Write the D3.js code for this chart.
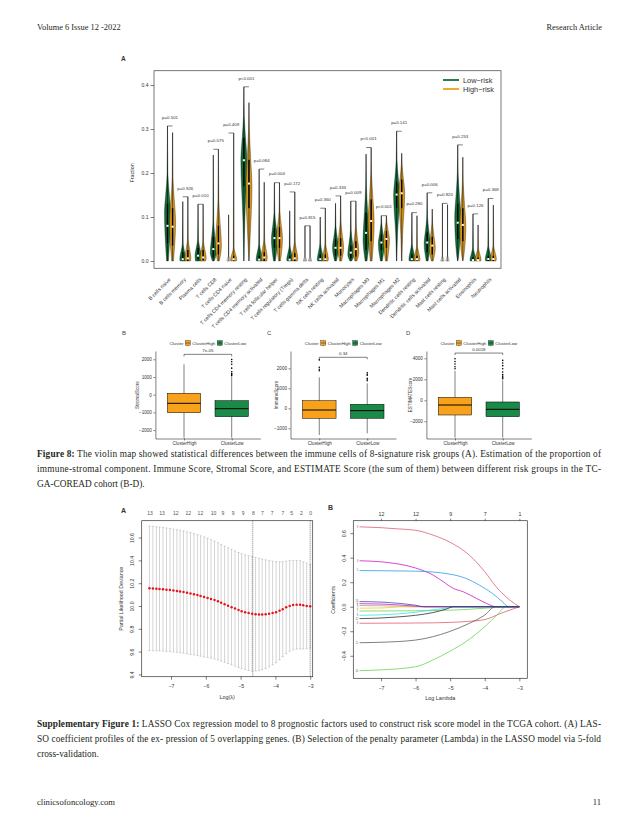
<!DOCTYPE html>
<html lang="en">
<head>
<meta charset="UTF-8">
<title>Figure 8 and Supplementary Figure 1</title>
<script src="https://d3js.org/d3.v7.min.js"></script>
<style>
  body { margin: 0; background: #fff; }
  svg { display: block; }
  .page text { font-family: "Liberation Serif", "DejaVu Serif", serif; fill: #231f20; }
  .chart text { font-family: "Liberation Sans", Arial, sans-serif; }
</style>
</head>
<body>
<svg id="page" width="638" height="826"></svg>
<script>
// ---------- Figure 8A: violin data ----------
const cellTypes = ["B cells naive", "B cells memory", "Plasma cells", "T cells CD8", "T cells CD4 naive",
  "T cells CD4 memory resting", "T cells CD4 memory activated", "T cells follicular helper",
  "T cells regulatory (Tregs)", "T cells gamma delta", "NK cells resting", "NK cells activated",
  "Monocytes", "Macrophages M0", "Macrophages M1", "Macrophages M2", "Dendritic cells resting",
  "Dendritic cells activated", "Mast cells resting", "Mast cells activated", "Eosinophils", "Neutrophils"];
const pValues = ["p=0.501", "p=0.926", "p=0.010", "p=0.075", "p=0.409", "p<0.001", "p=0.084", "p=0.004",
  "p=0.172", "p=0.815", "p=0.360", "p=0.333", "p=0.009", "p<0.001", "p<0.001", "p=0.141", "p=0.280",
  "p=0.006", "p=0.820", "p=0.253", "p=0.126", "p=0.368"];
// [max, q1, median, q3, densest value, body top, body bottom]
const lowRisk = [
  [0.307, 0.04, 0.080, 0.13, 0.11, 0.20, 0],
  [0.135, 0, 0.004, 0.02, 0.005, 0.04, 0],
  [0.129, 0.004, 0.012, 0.03, 0.012, 0.05, 0],
  [0.241, 0.008, 0.027, 0.055, 0.02, 0.09, 0],
  [0.105, 0, 0, 0, 0, 0.01, 0],
  [0.396, 0.17, 0.229, 0.28, 0.23, 0.33, 0.09],
  [0.209, 0, 0.003, 0.012, 0.004, 0.04, 0],
  [0.178, 0.03, 0.052, 0.075, 0.05, 0.11, 0],
  [0.114, 0, 0.003, 0.012, 0.004, 0.035, 0],
  [0.080, 0, 0, 0, 0, 0.01, 0],
  [0.100, 0, 0.004, 0.015, 0.004, 0.04, 0],
  [0.131, 0.012, 0.030, 0.05, 0.03, 0.08, 0],
  [0.136, 0.006, 0.019, 0.035, 0.015, 0.07, 0],
  [0.243, 0.025, 0.064, 0.11, 0.05, 0.17, 0],
  [0.103, 0.025, 0.042, 0.06, 0.04, 0.085, 0],
  [0.295, 0.12, 0.151, 0.18, 0.15, 0.23, 0.06],
  [0.110, 0, 0.004, 0.015, 0.004, 0.04, 0],
  [0.155, 0.02, 0.042, 0.065, 0.04, 0.10, 0],
  [0.131, 0, 0, 0, 0, 0.01, 0],
  [0.264, 0.05, 0.087, 0.13, 0.10, 0.20, 0.01],
  [0.107, 0, 0.002, 0.008, 0.003, 0.03, 0],
  [0.142, 0, 0.0045, 0.012, 0.005, 0.035, 0]
];
const highRisk = [
  [0.292, 0.035, 0.078, 0.12, 0.09, 0.19, 0],
  [0.146, 0, 0.006, 0.025, 0.006, 0.05, 0],
  [0.129, 0.002, 0.008, 0.025, 0.008, 0.045, 0],
  [0.254, 0.015, 0.040, 0.08, 0.035, 0.14, 0],
  [0.291, 0, 0.004, 0.012, 0.004, 0.03, 0],
  [0.360, 0.12, 0.176, 0.23, 0.17, 0.30, 0.04],
  [0.179, 0, 0.008, 0.02, 0.008, 0.05, 0],
  [0.178, 0.03, 0.052, 0.077, 0.052, 0.115, 0],
  [0.157, 0, 0.006, 0.018, 0.006, 0.045, 0],
  [0.080, 0, 0, 0, 0, 0.01, 0],
  [0.120, 0, 0.004, 0.015, 0.004, 0.04, 0],
  [0.148, 0.012, 0.030, 0.052, 0.03, 0.09, 0],
  [0.136, 0.01, 0.027, 0.045, 0.02, 0.08, 0],
  [0.258, 0.045, 0.091, 0.14, 0.09, 0.20, 0],
  [0.103, 0.03, 0.050, 0.068, 0.05, 0.09, 0],
  [0.245, 0.12, 0.154, 0.185, 0.155, 0.22, 0.06],
  [0.103, 0, 0.004, 0.012, 0.004, 0.035, 0],
  [0.118, 0.015, 0.035, 0.055, 0.03, 0.085, 0],
  [0.128, 0, 0, 0, 0, 0.01, 0],
  [0.236, 0.045, 0.082, 0.12, 0.08, 0.18, 0.01],
  [0.082, 0, 0.002, 0.008, 0.003, 0.03, 0],
  [0.127, 0, 0.0045, 0.012, 0.005, 0.035, 0]
];
const fractionTicks = [0, 0.1, 0.2, 0.3, 0.4];

// ---------- Figure 8B-D: boxplot data ----------
const boxGroups = ["ClusterHigh", "ClusterLow"];
// [whisker low, q1, median, q3, whisker high]
const stromalBox = [[-2430, -1017, -486, 80, 1720], [-2430, -1243, -791, -339, 1017]];
const stromalOut = [[], [1080, 1150, 1200, 1300, 1500, 1720, 1860, 1990]];
const immuneBox = [[-1335, -500, -85, 380, 1550], [-1250, -500, -117, 200, 1250]];
const immuneOut = [[1880, 1950, 2050, 2420], [1380, 1450, 1500, 1650, 1700, 1780]];
const estimateBox = [[-3550, -1400, -448, 285, 2800], [-3550, -1560, -857, -160, 1900]];
const estimateOut = [[3000, 3200, 3450, 3700, 3950], [2050, 2150, 2300, 2450, 2700, 3000, 3300, 3550, 3800]];
const boxPValues = ["7e-05", "0.34", "0.0018"];
const bracketHeights = [2280, 2550, 4500];

// ---------- Supplementary Figure 1A: cross-validation ----------
const logLambdaA = [-7.62, -7.52, -7.42, -7.33, -7.23, -7.13, -7.03, -6.93, -6.83, -6.74, -6.64, -6.54,
  -6.44, -6.34, -6.24, -6.15, -6.05, -5.95, -5.85, -5.75, -5.65, -5.56, -5.46, -5.36, -5.26, -5.16,
  -5.06, -4.97, -4.87, -4.77, -4.67, -4.57, -4.47, -4.38, -4.28, -4.18, -4.08, -3.98, -3.88, -3.79,
  -3.69, -3.59, -3.49, -3.39, -3.29, -3.20, -3.10, -3.00];
const cvMean = [10.155, 10.153, 10.151, 10.149, 10.146, 10.143, 10.140, 10.136, 10.132, 10.127, 10.122,
  10.116, 10.110, 10.103, 10.096, 10.088, 10.080, 10.071, 10.062, 10.052, 10.041, 10.029, 10.016,
  10.003, 9.990, 9.978, 9.965, 9.955, 9.946, 9.938, 9.932, 9.928, 9.926, 9.926, 9.928, 9.932, 9.938,
  9.946, 9.958, 9.972, 9.988, 10.000, 10.008, 10.011, 10.010, 10.006, 10.001, 9.997];
const cvSd = [0.546, 0.545, 0.544, 0.543, 0.542, 0.541, 0.540, 0.539, 0.538, 0.537, 0.536, 0.535, 0.534,
  0.532, 0.530, 0.528, 0.526, 0.523, 0.520, 0.517, 0.514, 0.512, 0.510, 0.508, 0.506, 0.505, 0.504,
  0.503, 0.503, 0.503, 0.502, 0.498, 0.492, 0.485, 0.477, 0.466, 0.455, 0.443, 0.430, 0.417, 0.405,
  0.397, 0.392, 0.389, 0.387, 0.382, 0.375, 0.367];
const nzPosA = [-7.62, -7.27, -6.88, -6.52, -6.17, -5.79, -5.52, -5.23, -4.94, -4.65, -4.39, -4.11,
  -3.80, -3.55, -3.27, -3.00];
const nzA = [13, 13, 12, 12, 12, 10, 9, 9, 9, 8, 7, 7, 7, 5, 2, 0];
const lambdaLines = [-4.65, -3.0];
const devianceTicks = [9.4, 9.6, 9.8, 10.0, 10.2, 10.4, 10.6];
const logTicks = [-7, -6, -5, -4, -3];

// ---------- Supplementary Figure 1B: coefficient paths ----------
const pathColors = ["#9e9e9e", "#F5C710", "#DF536B", "#CD0BBC", "#2297E6", "#CD0BBC", "#61D04F",
  "#28E2E5", "#DF536B", "#61D04F", "#555555", "#222222", "#3b3bb3"];
const coefPaths = [
  [[-7.62, 0.01], [-7.0, 0.008], [-6.5, 0.004], [-6.2, 0], [-3.0, 0]],
  [[-7.62, -0.012], [-7.0, -0.01], [-6.6, -0.004], [-6.4, 0], [-3.0, 0]],
  [[-7.62, 0.652], [-7, 0.645], [-6.5, 0.635], [-6, 0.624], [-5.5, 0.585], [-5.03, 0.53], [-4.45, 0.422], [-4.0, 0.286], [-3.67, 0.163], [-3.28, 0.055], [-3.0, 0]],
  [[-7.62, 0.375], [-6.84, 0.362], [-6.0, 0.316], [-5.49, 0.258], [-5.2, 0.204], [-4.91, 0.15], [-4.62, 0.122], [-4.24, 0.068], [-3.95, 0.027], [-3.67, 0], [-3.0, 0]],
  [[-7.62, 0.295], [-6.0, 0.29], [-5.03, 0.267], [-4.55, 0.232], [-4.16, 0.177], [-3.78, 0.109], [-3.49, 0.041], [-3.31, 0], [-3.0, 0]],
  [[-7.62, 0.025], [-7.0, 0.022], [-6.5, 0.015], [-6.0, 0.005], [-5.8, 0], [-3.0, 0]],
  [[-7.62, -0.035], [-6.0, -0.033], [-5.0, -0.028], [-4.5, -0.022], [-4.0, -0.012], [-3.5, -0.003], [-3.35, 0], [-3.0, 0]],
  [[-7.62, -0.07], [-7.0, -0.066], [-6.5, -0.058], [-6.0, -0.045], [-5.5, -0.025], [-5.0, -0.006], [-4.9, 0], [-3.0, 0]],
  [[-7.62, -0.135], [-6.0, -0.133], [-5.0, -0.128], [-4.5, -0.12], [-4.0, -0.105], [-3.5, -0.05], [-3.0, 0]],
  [[-7.62, -0.522], [-7.0, -0.515], [-6.0, -0.49], [-5.5, -0.435], [-5.03, -0.367], [-4.55, -0.286], [-4.0, -0.163], [-3.6, -0.054], [-3.4, 0], [-3.0, 0]],
  [[-7.62, -0.294], [-7.0, -0.29], [-6.0, -0.272], [-5.03, -0.204], [-4.45, -0.136], [-4.0, -0.068], [-3.7, 0], [-3.0, 0]],
  [[-7.62, -0.097], [-7.0, -0.092], [-6.5, -0.083], [-6.0, -0.07], [-5.5, -0.048], [-5.1, -0.018], [-4.9, 0], [-3.0, 0]],
  [[-7.62, 0.042], [-7.0, 0.038], [-6.5, 0.028], [-6.0, 0.012], [-5.75, 0], [-3.0, 0]]
];
const coefTicks = [-0.4, -0.2, 0, 0.2, 0.4, 0.6];
const nzB = [12, 12, 9, 7, 1];

// ---------- page text ----------
const fig8Caption = [
  ["Figure 8:", " The violin map showed statistical differences between the immune cells of 8-signature risk groups (A). Estimation of the proportion of", true],
  ["", "immune-stromal component. Immune Score, Stromal Score, and ESTIMATE Score (the sum of them) between different risk groups in the TC-", true],
  ["", "GA-COREAD cohort (B-D).", false]
];
const suppCaption = [
  ["Supplementary Figure 1:", " LASSO Cox regression model to 8 prognostic factors used to construct risk score model in the TCGA cohort. (A) LAS-", true],
  ["", "SO coefficient profiles of the ex- pression of 5 overlapping genes. (B) Selection of the penalty parameter (Lambda) in the LASSO model via 5-fold", true],
  ["", "cross-validation.", false]
];

const lowColor = "#10703a", highColor = "#d8961c";
const boxColors = ["#f8a11b", "#198a47"];
const sans = '"Liberation Sans", Arial, sans-serif';

const svg = d3.select("#page");
svg.append("rect").attr("width", 638).attr("height", 826).attr("fill", "#fff");

function styleAxis(sel, size) {
  sel.attr("font-family", sans).attr("font-size", size);
  sel.selectAll("path.domain").attr("stroke", "#000").attr("stroke-width", 0.5);
  sel.selectAll(".tick line").attr("stroke", "#000").attr("stroke-width", 0.5);
  sel.selectAll(".tick text").attr("fill", "#333");
}

// ---------- page header, captions, footer ----------
const page = svg.append("g").attr("class", "page");
page.append("text").attr("x", 37).attr("y", 30).attr("font-size", 8.4).text("Volume 6 Issue 12 -2022");
page.append("text").attr("x", 602).attr("y", 30).attr("font-size", 8.4).attr("text-anchor", "end").text("Research Article");
page.append("text").attr("x", 37).attr("y", 805).attr("font-size", 8.6).text("clinicsofoncology.com");
page.append("text").attr("x", 601).attr("y", 805).attr("font-size", 8.6).attr("text-anchor", "end").text("11");

function caption(lines, y0) {
  lines.forEach((ln, i) => {
    const t = page.append("text").attr("x", 37).attr("y", y0 + i * 15.2).attr("font-size", 9.3);
    if (ln[0]) t.append("tspan").attr("font-weight", "bold").text(ln[0]);
    t.append("tspan").text(ln[1]);
    if (ln[2]) t.attr("textLength", 564).attr("lengthAdjust", "spacing");
  });
}
caption(fig8Caption, 457);
caption(suppCaption, 727);

// ---------- Figure 8A: violins ----------
const gA = svg.append("g").attr("class", "chart");
const vx = d3.scaleLinear().domain([-1.65, 66.5]).range([154, 501]);
const vy = d3.scaleLinear().domain([-0.0166, 0.4326]).range([268.3, 70.7]);
const halfW = 3;

gA.append("text").attr("x", 121).attr("y", 61).attr("font-size", 6.5).attr("font-weight", "bold").attr("fill", "#333").text("A");

function violinKnots(s) {
  const [max, , , q3, peak, top, bottom] = s;
  if (q3 === 0) return [[0, 0.55], [0.005, 0.35], [0.014, 0], [max, 0]];
  const k = bottom > 0 ? [[0, 0.03], [bottom, 0.3]] : [[0, peak < 0.015 ? 0.85 : 0.3]];
  k.push([peak, 1], [(peak + top) / 2, 0.55], [top, 0.12], [max, 0]);
  return k;
}

function drawViolin(s, cx, color) {
  const [max, q1, med, q3] = s;
  const empty = q3 === 0;
  const knots = violinKnots(s).reverse();
  const area = d3.area().curve(d3.curveMonotoneY)
    .y(d => vy(d[0]))
    .x0(d => cx - d[1] * halfW)
    .x1(d => cx + d[1] * halfW);
  gA.append("path").datum(knots).attr("d", area)
    .attr("fill", empty ? "#fff" : color).attr("stroke", "#111").attr("stroke-width", 0.35);
  gA.append("line").attr("x1", cx).attr("x2", cx).attr("y1", vy(0)).attr("y2", vy(max))
    .attr("stroke", "#000").attr("stroke-width", 0.5);
  if (!empty) {
    gA.append("rect").attr("x", cx - 0.7).attr("width", 1.4)
      .attr("y", vy(q3)).attr("height", Math.max(0.5, vy(q1) - vy(q3))).attr("fill", "#000");
    gA.append("rect").attr("x", cx - 1).attr("y", vy(med) - 1).attr("width", 2).attr("height", 2).attr("fill", "#fff");
  }
}

cellTypes.forEach((name, i) => {
  const uLow = 3 * i + 1, uHigh = 3 * i + 2;
  drawViolin(lowRisk[i], vx(uLow), lowColor);
  drawViolin(highRisk[i], vx(uHigh), highColor);
  const mx = Math.max(lowRisk[i][0], highRisk[i][0]);
  gA.append("line").attr("x1", vx(uLow)).attr("x2", vx(uHigh)).attr("y1", vy(mx)).attr("y2", vy(mx))
    .attr("stroke", "#000").attr("stroke-width", 0.5);
  gA.append("text").attr("x", vx((uLow + uHigh) / 2)).attr("y", vy(mx + 0.02)).attr("dy", "0.35em")
    .attr("text-anchor", "middle").attr("font-size", 4.4).attr("fill", "#333").text(pValues[i]);
  const lx = vx((uLow + uHigh) / 2) + 1;
  gA.append("text").attr("transform", `translate(${lx},280) rotate(-45)`)
    .attr("text-anchor", "end").attr("font-size", 5.2).attr("fill", "#333").text(name);
});

gA.append("rect").attr("x", vx.range()[0]).attr("y", vy.range()[1])
  .attr("width", vx.range()[1] - vx.range()[0]).attr("height", vy.range()[0] - vy.range()[1])
  .attr("fill", "none").attr("stroke", "#555").attr("stroke-width", 0.8);
gA.append("g").attr("transform", `translate(${vx.range()[0]},0)`)
  .call(d3.axisLeft(vy).tickValues(fractionTicks).tickFormat(d3.format(".1f")).tickSize(3.5).tickPadding(2))
  .call(g => g.select(".domain").remove())
  .call(g => styleAxis(g, 5));
gA.append("text").attr("transform", "translate(134,173) rotate(-90)").attr("text-anchor", "middle")
  .attr("font-size", 5.3).attr("fill", "#333").text("Fraction");

[["Low\u2212risk", lowColor, 80], ["High\u2212risk", "#f0a020", 89]].forEach(([lab, col, ly]) => {
  gA.append("line").attr("x1", 443).attr("x2", 459).attr("y1", ly).attr("y2", ly).attr("stroke", col).attr("stroke-width", 1.8);
  gA.append("text").attr("x", 463).attr("y", ly).attr("dy", "0.35em").attr("font-size", 7.4).attr("fill", "#333").text(lab);
});

// ---------- Figure 8B-D: boxplots ----------
const boxPanels = [
  { label: "B", lx: 122, left: 155.4, right: 260.3, domain: [-2475, 2469], ticks: [-2000, -1000, 0, 1000, 2000], title: "StromalScore", tx: 138.5, box: stromalBox, out: stromalOut },
  { label: "C", lx: 267, left: 290.5, right: 396, domain: [-1510, 2865], ticks: [-1000, 0, 1000, 2000], title: "ImmuneScore", tx: 278.3, box: immuneBox, out: immuneOut },
  { label: "D", lx: 406, left: 426.4, right: 531.3, domain: [-3638, 4695], ticks: [-2000, 0, 2000, 4000], title: "ESTIMATEScore", tx: 412, box: estimateBox, out: estimateOut }
];

boxPanels.forEach((cfg, pi) => {
  const g = svg.append("g").attr("class", "chart");
  const x = d3.scalePoint().domain(boxGroups).range([cfg.left, cfg.right]).padding(0.6);
  const y = d3.scaleLinear().domain(cfg.domain).range([438.5, 351]);
  const bw = x.step() * 0.7;

  g.append("text").attr("x", cfg.lx).attr("y", 335).attr("font-size", 6).attr("fill", "#444").text(cfg.label);

  boxGroups.forEach((grp, gi) => {
    const [wl, q1, med, q3, wh] = cfg.box[gi];
    const cx = x(grp);
    g.append("line").attr("x1", cx).attr("x2", cx).attr("y1", y(wl)).attr("y2", y(wh)).attr("stroke", "#000").attr("stroke-width", 0.5);
    g.append("rect").attr("x", cx - bw / 2).attr("width", bw).attr("y", y(q3)).attr("height", y(q1) - y(q3))
      .attr("fill", boxColors[gi]).attr("stroke", "#000").attr("stroke-width", 0.5);
    g.append("line").attr("x1", cx - bw / 2).attr("x2", cx + bw / 2).attr("y1", y(med)).attr("y2", y(med))
      .attr("stroke", "#000").attr("stroke-width", 1);
    g.selectAll(null).data(cfg.out[gi]).join("circle")
      .attr("cx", cx).attr("cy", d => y(d)).attr("r", 0.8).attr("fill", "#000");
  });

  const yb = y(bracketHeights[pi]);
  const x1 = x(boxGroups[0]), x2 = x(boxGroups[1]);
  g.append("path").attr("d", `M${x1},${yb + 2}V${yb}H${x2}V${yb + 2}`).attr("fill", "none").attr("stroke", "#000").attr("stroke-width", 0.5);
  g.append("text").attr("x", (x1 + x2) / 2).attr("y", yb - 2).attr("text-anchor", "middle")
    .attr("font-size", 4.4).attr("fill", "#333").text(boxPValues[pi]);

  g.append("g").attr("transform", `translate(${cfg.left},0)`)
    .call(d3.axisLeft(y).tickValues(cfg.ticks).tickFormat(d3.format("d")).tickSize(2).tickSizeOuter(0).tickPadding(1.5))
    .call(a => styleAxis(a, 4.6));
  g.append("g").attr("transform", "translate(0,438.5)")
    .call(d3.axisBottom(x).tickSize(2).tickSizeOuter(0).tickPadding(1.2))
    .call(a => styleAxis(a, 4.6));
  g.append("text").attr("transform", `translate(${cfg.tx},395) rotate(-90)`).attr("text-anchor", "middle")
    .attr("font-size", 4.6).attr("fill", "#333").text(cfg.title);

  // legend, centred over the panel
  const lg = g.append("g");
  let cur = 0;
  const addText = t => {
    const el = lg.append("text").attr("x", cur).attr("y", 0).attr("dy", "0.35em").attr("font-size", 4.4).attr("fill", "#333").text(t);
    cur += el.node().getComputedTextLength() + 2;
  };
  const addKey = col => {
    lg.append("line").attr("x1", cur + 2.5).attr("x2", cur + 2.5).attr("y1", -3.3).attr("y2", 3.3).attr("stroke", "#333").attr("stroke-width", 0.4);
    lg.append("rect").attr("x", cur).attr("y", -2.3).attr("width", 5).attr("height", 4.6).attr("fill", col).attr("stroke", "#333").attr("stroke-width", 0.4);
    lg.append("line").attr("x1", cur).attr("x2", cur + 5).attr("y1", 0).attr("y2", 0).attr("stroke", "#222").attr("stroke-width", 0.5);
    cur += 7;
  };
  addText("Cluster");
  addKey(boxColors[0]);
  addText(boxGroups[0]);
  addKey(boxColors[1]);
  addText(boxGroups[1]);
  const centre = (cfg.left + cfg.right) / 2;
  lg.attr("transform", `translate(${centre - (cur - 2) / 2},343)`);
});

// ---------- Supplementary Figure 1A ----------
const gL = svg.append("g").attr("class", "chart");
const ax = d3.scaleLinear().domain([-7.842, -2.928]).range([141.7, 312.7]);
const ay = d3.scaleLinear().domain([9.380, 10.748]).range([676.7, 520.7]);

gL.append("text").attr("x", 121).attr("y", 512.5).attr("font-size", 7).attr("font-weight", "bold").attr("fill", "#333").text("A");

logLambdaA.forEach((l, i) => {
  const px = ax(l), yu = ay(cvMean[i] + cvSd[i]), yl = ay(cvMean[i] - cvSd[i]);
  gL.append("line").attr("x1", px).attr("x2", px).attr("y1", yu).attr("y2", yl).attr("stroke", "#a9a9a9").attr("stroke-width", 0.5);
  [yu, yl].forEach(yy => gL.append("line").attr("x1", px - 1.1).attr("x2", px + 1.1).attr("y1", yy).attr("y2", yy)
    .attr("stroke", "#a9a9a9").attr("stroke-width", 0.5));
});
lambdaLines.forEach(l => gL.append("line").attr("x1", ax(l)).attr("x2", ax(l)).attr("y1", ay.range()[1]).attr("y2", ay.range()[0])
  .attr("stroke", "#000").attr("stroke-width", 0.5).attr("stroke-dasharray", "1,1"));
gL.selectAll(null).data(logLambdaA).join("circle")
  .attr("cx", d => ax(d)).attr("cy", (d, i) => ay(cvMean[i])).attr("r", 1.25).attr("fill", "#e8141c");

gL.append("rect").attr("x", ax.range()[0]).attr("y", ay.range()[1])
  .attr("width", ax.range()[1] - ax.range()[0]).attr("height", ay.range()[0] - ay.range()[1])
  .attr("fill", "none").attr("stroke", "#333").attr("stroke-width", 0.7);
gL.append("g").attr("transform", `translate(0,${ay.range()[0]})`)
  .call(d3.axisBottom(ax).tickValues(logTicks).tickSize(3).tickPadding(5).tickFormat(d => d3.format("d")(d).replace("-", "\u2212")))
  .call(a => a.select(".domain").remove()).call(a => styleAxis(a, 5.2));
gL.append("g").attr("transform", `translate(${ax.range()[0]},0)`)
  .call(d3.axisLeft(ay).tickValues(devianceTicks).tickSize(3).tickFormat(d3.format(".1f")))
  .call(a => a.select(".domain").remove()).call(a => styleAxis(a, 5.2))
  .call(a => a.selectAll(".tick text").attr("x", null).attr("dy", null).attr("text-anchor", "middle")
    .attr("transform", "translate(-7.5,0) rotate(-90)"));
gL.append("g").attr("transform", `translate(0,${ay.range()[1]})`)
  .call(d3.axisTop(ax).tickValues(nzPosA).tickSize(0).tickPadding(6).tickFormat((d, i) => nzA[i]))
  .call(a => a.select(".domain").remove()).call(a => styleAxis(a, 5))
  .call(a => a.selectAll(".tick text").attr("fill", "#555"));
gL.append("text").attr("x", (ax.range()[0] + ax.range()[1]) / 2).attr("y", 699).attr("text-anchor", "middle")
  .attr("font-size", 5.4).attr("fill", "#333").text("Log(\u03bb)");
gL.append("text").attr("transform", "translate(122.5,598.7) rotate(-90)").attr("text-anchor", "middle")
  .attr("font-size", 5.3).attr("fill", "#333").text("Partial Likelihood Deviance");

// ---------- Supplementary Figure 1B ----------
const gB = svg.append("g").attr("class", "chart");
const bx = d3.scaleLinear().domain([-7.80, -2.77]).range([353.3, 527.3]);
const by = d3.scaleLinear().domain([-0.584, 0.702]).range([678.3, 520.7]);

gB.append("text").attr("x", 328).attr("y", 509.5).attr("font-size", 7).attr("font-weight", "bold").attr("fill", "#333").text("B");

const coefLine = d3.line().curve(d3.curveMonotoneX).x(d => bx(d[0])).y(d => by(d[1]));
coefPaths.forEach((pts, i) => {
  gB.append("path").datum(pts).attr("d", coefLine).attr("fill", "none")
    .attr("stroke", pathColors[i]).attr("stroke-width", 0.75);
  gB.append("text").attr("x", bx(pts[0][0]) - 1.2).attr("y", by(pts[0][1])).attr("dy", "0.35em")
    .attr("text-anchor", "end").attr("font-size", 2.6).attr("fill", "#666").text(i + 1);
});

gB.append("rect").attr("x", bx.range()[0]).attr("y", by.range()[1])
  .attr("width", bx.range()[1] - bx.range()[0]).attr("height", by.range()[0] - by.range()[1])
  .attr("fill", "none").attr("stroke", "#333").attr("stroke-width", 0.7);
gB.append("g").attr("transform", `translate(0,${by.range()[0]})`)
  .call(d3.axisBottom(bx).tickValues(logTicks).tickSize(3).tickPadding(5).tickFormat(d => d3.format("d")(d).replace("-", "\u2212")))
  .call(a => a.select(".domain").remove()).call(a => styleAxis(a, 5.2));
gB.append("g").attr("transform", `translate(${bx.range()[0]},0)`)
  .call(d3.axisLeft(by).tickValues(coefTicks).tickSize(3).tickFormat(d => d3.format(".1f")(d).replace("-", "\u2212")))
  .call(a => a.select(".domain").remove()).call(a => styleAxis(a, 5.2))
  .call(a => a.selectAll(".tick text").attr("x", null).attr("dy", null).attr("text-anchor", "middle")
    .attr("transform", "translate(-7.5,0) rotate(-90)"));
gB.append("g").attr("transform", `translate(0,${by.range()[1]})`)
  .call(d3.axisTop(bx).tickValues(logTicks).tickSize(2).tickPadding(3).tickFormat((d, i) => nzB[i]))
  .call(a => a.select(".domain").remove()).call(a => styleAxis(a, 5.3));
gB.append("text").attr("x", (bx.range()[0] + bx.range()[1]) / 2).attr("y", 700).attr("text-anchor", "middle")
  .attr("font-size", 5.4).attr("fill", "#333").text("Log Lambda");
gB.append("text").attr("transform", "translate(335,600) rotate(-90)").attr("text-anchor", "middle")
  .attr("font-size", 5.3).attr("fill", "#333").text("Coefficients");
</script>
</body>
</html>
